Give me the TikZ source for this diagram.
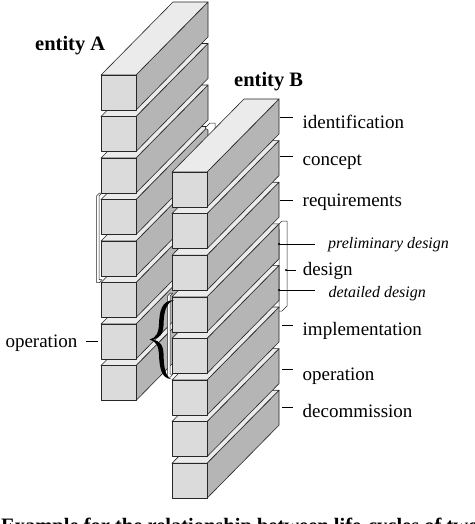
\documentclass[tikz,border=0pt]{standalone}
\usepackage{fontspec}
\setmainfont{Liberation Serif}
\definecolor{frontc}{gray}{0.86}
\definecolor{topc}{gray}{0.92}
\definecolor{sidec}{gray}{0.71}
\newcommand\lcbox[2]{%
  \begin{scope}[shift={(#1,#2)}]
    \filldraw[boxedge,fill=sidec] (35,0) -- (107,-73) -- (107,-38) -- (35,35) -- cycle;
    \filldraw[boxedge,fill=topc] (0,0) -- (72,-73) -- (107,-73) -- (35,0) -- cycle;
    \filldraw[boxedge,fill=frontc] (0,0) rectangle (35,35);
  \end{scope}}
\tikzset{
  boxedge/.style={draw=black!85, line width=0.6pt, line join=round},
  brk/.style={draw=black!85, fill=white, line width=0.5pt, line join=round},
  lead/.style={draw=black, line width=0.6pt},
  lab/.style={inner sep=0pt, anchor=base west, font=\fontsize{19}{22}\selectfont},
  ilab/.style={inner sep=0pt, anchor=base west, font=\itshape\fontsize{16}{19}\selectfont},
  ent/.style={inner sep=0pt, anchor=base west, font=\bfseries\fontsize{20.5}{24}\selectfont},
  dotm/.style={circle, fill=black, inner sep=0pt, minimum size=2.2pt}
}
\begin{document}
\begin{tikzpicture}[x=1pt,y=-1pt]
\useasboundingbox (0,0) rectangle (474,524);
\clip (0,0) rectangle (474,524);
\fill[white] (0,0) rectangle (474,524);
% ---- entity A stack ----
\foreach \k in {7,6,...,0}{\pgfmathsetmacro\yy{75+41.5*\k}\lcbox{101}{\yy}}
% A brackets
\path[brk] (96.5,196) -- (99.5,193) -- (102,193) -- (99,196) -- (99,279.5) -- (102,279.5) -- (99.5,282.5) -- (96.5,282.5) -- cycle;
\path[brk] (205,128) -- (210,123) -- (215,123) -- (215,208) -- (210,213) -- (205,213) -- (208,210) -- (208,130) -- cycle;
% B brackets
\path[brk] (276,227) -- (282,221) -- (287,221) -- (287,306) -- (282,311) -- (276,311) -- (279,308) -- (279,229) -- cycle;
\path[brk] (167.5,296) -- (170.5,293) -- (173,293) -- (170,296) -- (170,374) -- (173,374) -- (170.5,377) -- (167.5,377) -- cycle;
% ---- entity B stack ----
\foreach \k in {7,6,...,0}{\pgfmathsetmacro\yy{172+41.6*\k}\lcbox{172}{\yy}}
% calligraphic brace
\fill[black] (174,300) .. controls (161,300.5) and (159.5,312) .. (159,324)
  .. controls (158.6,333) and (156,338) .. (149.5,339.5)
  .. controls (156,341) and (158.6,346) .. (159,355)
  .. controls (159.5,367) and (161,378.5) .. (171,379)
  .. controls (165,376) and (163.8,366) .. (163.6,355)
  .. controls (163.4,345) and (160,341) .. (153,339.5)
  .. controls (160,338) and (163.4,334) .. (163.6,324)
  .. controls (163.8,312) and (166,303) .. (174,300) -- cycle;
% ---- labels ----
\node[ent] (entA) at (35,50.7) {entity A};
\node[ent] (entB) at (234,86.5) {entity B};
\node[lab] (ident) at (302.5,128.3) {identification};
\node[lab] (conc) at (302.5,165.7) {concept};
\node[lab] (req) at (302.5,206) {requirements};
\node[ilab] (prel) at (328,248.5) {preliminary design};
\node[lab] (des) at (302.7,275) {design};
\node[ilab] (det) at (328.3,297.3) {detailed design};
\node[lab] (impl) at (302.5,335) {implementation};
\node[lab] (oper) at (302.5,380) {operation};
\node[lab] (decom) at (302.5,417.3) {decommission};
\node[inner sep=0pt, anchor=base east, font=\fontsize{19}{22}\selectfont] (operA) at (77.5,347.3) {operation};
% leader lines
\coordinate (cId) at (280,117.7);
\coordinate (cCo) at (280,156.7);
\coordinate (cRe) at (280,200);
\coordinate (cIm) at (282,325);
\coordinate (cOp) at (282,369.3);
\coordinate (cDe) at (282,407.3);
\coordinate (cOA) at (98,341);
\draw[lead] (cId) -- (cId -| 293,0);
\draw[lead] (cCo) -- (cCo -| 293,0);
\draw[lead] (cRe) -- (cRe -| 293,0);
\draw[lead] (cIm) -- (cIm -| 293,0);
\draw[lead] (cOp) -- (cOp -| 293,0);
\draw[lead] (cDe) -- (cDe -| 293,0);
\draw[lead] (cOA) -- (86,341);
\node[dotm] (dPre) at (279,244) {};
\node[dotm] (dDes) at (286,270) {};
\node[dotm] (dDet) at (279,290) {};
\draw[lead] (dPre.center) -- (315,244);
\draw[lead] (dDes.center) -- (296,270);
\draw[lead] (dDet.center) -- (315,290);
% caption (cut off at the bottom, as in the reference)
\node[inner sep=0pt, anchor=base west, font=\bfseries\fontsize{20.5}{24}\selectfont] (cap) at (1,532) {Example for the relationship between life-cycles of two};
\end{tikzpicture}
\end{document}
